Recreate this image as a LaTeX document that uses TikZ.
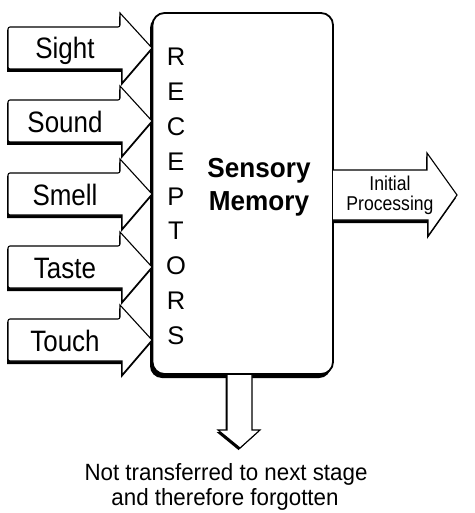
\documentclass[tikz,border=0pt]{standalone}
\usepackage{fontspec}
\setmainfont{Liberation Sans}
\newfontfamily\labfont[FakeStretch=0.88]{Liberation Sans}
\newfontfamily\boldlab[FakeStretch=0.95]{Liberation Sans Bold}
\newfontfamily\txtfont[FakeStretch=0.95]{Liberation Sans}
\begin{document}
\begin{tikzpicture}[x=1pt,y=-1pt,
  outl/.style={draw=black,line width=1.1pt,fill=white,line join=miter},
  shad/.style={fill=black},
  inlabel/.style={font=\labfont\fontsize{29.5}{29.5}\selectfont,anchor=base,inner sep=0pt},
  rec/.style={font=\fontsize{25.5}{25.5}\selectfont,anchor=base,inner sep=0pt},
  ]
\useasboundingbox (0,0) rectangle (474,513);
% main box
\fill[black,rounded corners=12pt] (150,16) rectangle (331,378);
\draw[line width=1.8pt,fill=white,rounded corners=12pt] (152.5,13) rectangle (333,374);
\coordinate (box) at (242,194);
\node[font=\boldlab\fontsize{27.5}{27.5}\selectfont,anchor=base,inner sep=0pt] (sens) at (259,177) {Sensory};
\node[font=\boldlab\fontsize{27.5}{27.5}\selectfont,anchor=base,inner sep=0pt] (mem) at (259,210) {Memory};
% receptors letters
\foreach \l [count=\i from 0] in {R,E,C,E,P,T,O,R,S}{
  \node[rec] (r\i) at (176,{57+34.75*\i+9}) {\l};
}
% input arrows
\foreach \name/\cy in {Sight/48,Sound/121,Smell/194,Taste/267,Touch/340}{
  \begin{scope}[shift={(0,\cy)}]
  \fill[shad,shift={(-1,3)}] (8,-21) -- (120,-21) -- (120,-35) -- (152,0) -- (122,35) -- (122,21) -- (8,21) -- cycle;
  \draw[outl,rounded corners=2pt] (8,-21) -- (120,-21) [sharp corners] -- (120,-35) -- (152,0) -- (122,35) -- (122,21) [rounded corners=2pt] -- (8,21) -- cycle;
  \node[inlabel] (\name) at (65,11) {\name};
  \end{scope}
}
% right arrow
\fill[shad,shift={(-1,3)}] (334,170) -- (427,170) -- (427,153) -- (457,195) -- (428,236) -- (428,220) -- (334,220) -- cycle;
\draw[outl] (333,170) -- (427,170) -- (427,153) -- (457,195) -- (428,236) -- (428,220) -- (333,220);
\node[font=\labfont\fontsize{20}{20}\selectfont,align=center,inner sep=0pt,anchor=base] (init) at (390,190) {Initial};
\node[font=\labfont\fontsize{20}{20}\selectfont,inner sep=0pt,anchor=base] (proc) at (390,210) {Processing};
% bottom arrow
\fill[shad,shift={(-1.5,2)}] (227,376) -- (227,430) -- (218,430) -- (240,448) -- (260,430) -- (252,430) -- (252,376) -- cycle;
\draw[outl] (227,375) -- (227,430) -- (218,430) -- (240,448) -- (260,430) -- (252,430) -- (252,375);
\node[font=\txtfont\fontsize{23.5}{23.5}\selectfont,anchor=base,inner sep=0pt] (nt1) at (226,480) {Not transferred to next stage};
\node[font=\txtfont\fontsize{23.5}{23.5}\selectfont,anchor=base,inner sep=0pt] (nt2) at (225,505) {and therefore forgotten};
\end{tikzpicture}
\end{document}
